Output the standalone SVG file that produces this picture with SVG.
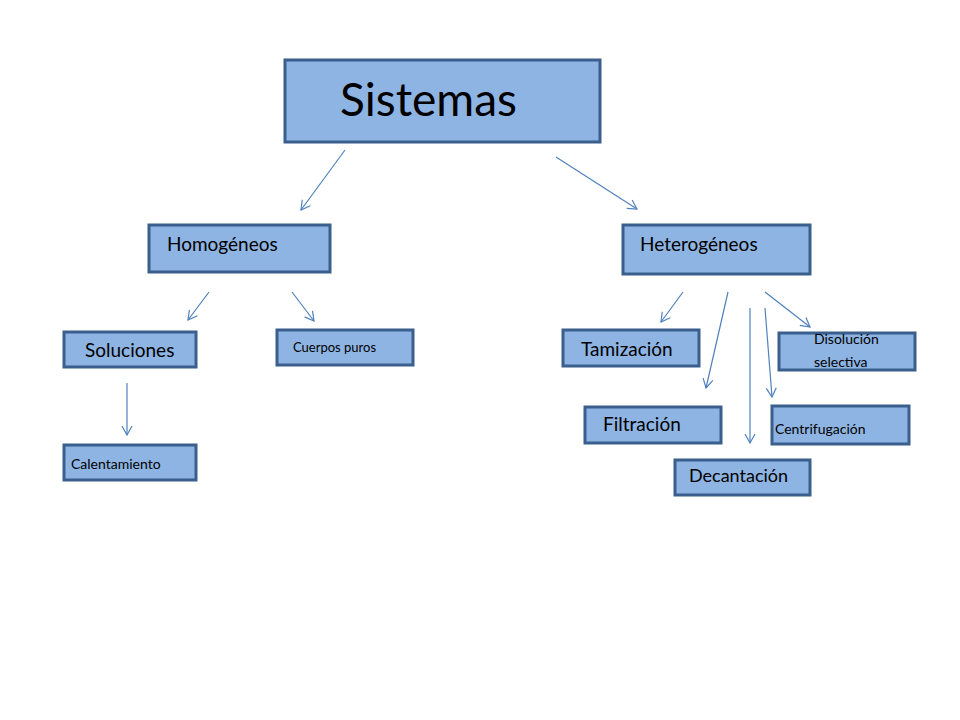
<svg xmlns="http://www.w3.org/2000/svg" width="960" height="720" viewBox="0 0 960 720">
<defs>
<marker id="ah" markerWidth="12" markerHeight="12" refX="10" refY="6" orient="auto" markerUnits="userSpaceOnUse">
<path d="M1,1 L10,6 L1,11" fill="none" stroke="#4F81BD" stroke-width="1.2"/>
</marker>
</defs>
<style>
.b{fill:#8EB4E3;stroke:#3A5F8D;stroke-width:3}
.t{font-family:Lato,"Open Sans",sans-serif;fill:#000}
.c line{stroke:#4F81BD;stroke-width:1.2;marker-end:url(#ah)}
</style>
<rect width="960" height="720" fill="#fff"/>
<g id="sistemas"><rect class="b" x="285" y="60" width="315" height="82"/><text class="t" x="340" y="116" font-size="46">Sistemas</text></g>
<g id="homogeneos"><rect class="b" x="149" y="225" width="181" height="47"/><text class="t" x="167" y="251" font-size="19">Homogéneos</text></g>
<g id="heterogeneos"><rect class="b" x="623" y="225" width="187" height="49"/><text class="t" x="640" y="251" font-size="19">Heterogéneos</text></g>
<g id="soluciones"><rect class="b" x="64" y="332" width="132" height="35"/><text class="t" x="85" y="357" font-size="19">Soluciones</text></g>
<g id="cuerpos"><rect class="b" x="277" y="330" width="136" height="35"/><text class="t" x="293" y="352" font-size="13">Cuerpos puros</text></g>
<g id="calentamiento"><rect class="b" x="64" y="445" width="132" height="35"/><text class="t" x="71" y="469" font-size="14">Calentamiento</text></g>
<g id="tamizacion"><rect class="b" x="563" y="330" width="136" height="36"/><text class="t" x="581" y="356" font-size="19">Tamización</text></g>
<g id="disolucion"><rect class="b" x="779" y="333" width="136" height="37"/><text class="t" x="814" y="344" font-size="14">Disolución</text><text class="t" x="814" y="367" font-size="14">selectiva</text></g>
<g id="filtracion"><rect class="b" x="585" y="407" width="136" height="36"/><text class="t" x="603" y="431" font-size="19">Filtración</text></g>
<g id="centrifugacion"><rect class="b" x="772" y="406" width="137" height="38"/><text class="t" x="775" y="434" font-size="14">Centrifugación</text></g>
<g id="decantacion"><rect class="b" x="675" y="460" width="135" height="35"/><text class="t" x="689" y="482" font-size="18">Decantación</text></g>
<g class="c" id="connectors">
<line x1="345" y1="150" x2="301" y2="210"/>
<line x1="556" y1="157" x2="637" y2="209"/>
<line x1="209" y1="292" x2="188" y2="320"/>
<line x1="292" y1="292" x2="314" y2="321"/>
<line x1="127" y1="383" x2="127" y2="435"/>
<line x1="683" y1="292" x2="661" y2="322"/>
<line x1="728" y1="292" x2="706" y2="388"/>
<line x1="750" y1="308" x2="750" y2="443"/>
<line x1="765" y1="308" x2="772" y2="397"/>
<line x1="765" y1="292" x2="810" y2="327"/>
</g>
</svg>
